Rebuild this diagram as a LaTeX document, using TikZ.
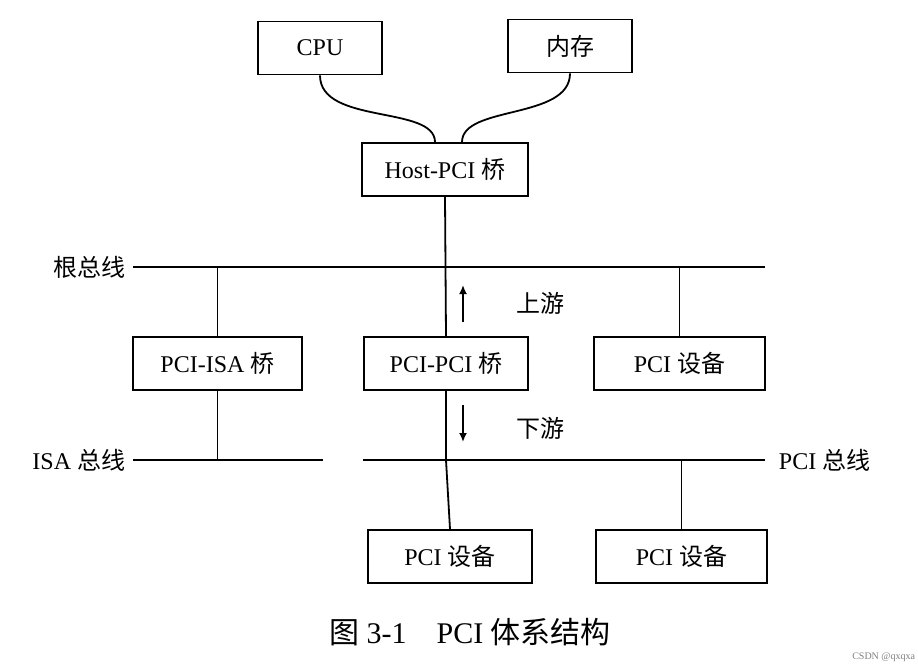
\documentclass[tikz,border=0pt]{standalone}
\usepackage{fontspec}
\setmainfont{Liberation Serif}
\newfontfamily\cjk{Noto Sans CJK SC}
\begin{document}
\begin{tikzpicture}[x=1pt,y=-1pt,line width=1.8pt,
  box/.style={draw,minimum height=53pt,inner sep=0pt,font=\fontsize{24}{28}\selectfont},
  lab/.style={font=\fontsize{24}{28}\selectfont,inner sep=0pt},
  ar/.style={-{Latex[length=9pt,width=8pt]},line width=2.5pt}]
\useasboundingbox (0,0) rectangle (918,665);
\fill[white] (0,0) rectangle (918,665);
\usetikzlibrary{arrows.meta}
\node[box,minimum width=124pt] (cpu) at (320,48) {CPU};
\node[box,minimum width=124pt] (mem) at (570,46) {\cjk 内存};
\node[box,minimum width=166pt] (host) at (445,169.5) {Host-PCI {\cjk 桥}};
\node[box,minimum width=169pt] (isa) at (217.5,363.5) {PCI-ISA {\cjk 桥}};
\node[box,minimum width=164pt] (ppb) at (446,363.5) {PCI-PCI {\cjk 桥}};
\node[box,minimum width=171pt] (dev1) at (679.5,363.5) {PCI {\cjk 设备}};
\node[box,minimum width=164pt] (dev2) at (450,556.5) {PCI {\cjk 设备}};
\node[box,minimum width=171pt] (dev3) at (681.5,556.5) {PCI {\cjk 设备}};
\coordinate (r1) at (133,267); \coordinate (r2) at (765,267);
\coordinate (i1) at (133,460); \coordinate (i2) at (323,460);
\coordinate (p1) at (363,460); \coordinate (p2) at (765,460);
\draw (r1) -- (r2); \draw (i1) -- (i2); \draw (p1) -- (p2);
\node[lab,anchor=east] (rl) at (126,267) {\cjk 根总线};
\node[lab,anchor=east] (il) at (126,460) {ISA {\cjk 总线}};
\node[lab,anchor=west] (pl) at (778,460) {PCI {\cjk 总线}};
\draw (cpu.south) .. controls (320,125) and (435,105) .. ([xshift=-10pt]host.north);
\draw (mem.south) .. controls (570,120) and (462,105) .. ([xshift=17pt]host.north);
\draw (host.south) -- (ppb.north);
\draw (isa.north) -- (isa.north|-r1);
\draw (isa.south) -- (isa.south|-i1);
\draw (dev1.north) -- (dev1.north|-r1);
\draw (ppb.south) -- (446,460) -- (dev2.north);
\draw (dev3.north) -- (dev3.north|-p1);
\coordinate (ua) at (463,322); \coordinate (ub) at (463,285);
\coordinate (da) at (463,405); \coordinate (db) at (463,442);
\draw[ar] (ua) -- (ub); \draw[ar] (da) -- (db);
\node[lab] (up) at (540,303) {\cjk 上游};
\node[lab] (dn) at (540,428) {\cjk 下游};
\node[font=\fontsize{30}{34}\selectfont,inner sep=0pt] (cap) at (470,632) {{\cjk 图} 3-1\quad PCI {\cjk 体系结构}};
\node[font=\fontsize{10}{12}\selectfont,text=gray,anchor=south east,inner sep=2pt] (wm) at (918,665) {CSDN @qxqxa};
\end{tikzpicture}
\end{document}
